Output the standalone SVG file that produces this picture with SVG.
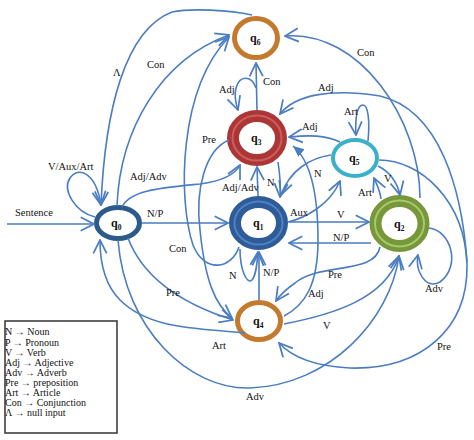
<svg xmlns="http://www.w3.org/2000/svg" width="474" height="440" viewBox="0 0 474 440">
<defs>
<marker id="a" markerUnits="userSpaceOnUse" markerWidth="16" markerHeight="16" viewBox="0 0 12 12" refX="11" refY="6" orient="auto">
<path d="M1,1 L11,6 L1,11" fill="none" stroke="#4A7DC1" stroke-width="1.3"/>
</marker>
<marker id="f" markerUnits="userSpaceOnUse" markerWidth="12" markerHeight="12" viewBox="0 0 12 12" refX="11" refY="6" orient="auto">
<path d="M0,1 L11,6 L0,11 z" fill="#4A7DC1"/>
</marker>
</defs>
<style>
.e{fill:none;stroke:#4A7DC1;stroke-width:1.6;marker-end:url(#a)}
.n{fill:none;stroke:#4A7DC1;stroke-width:1.6}
.l{font-family:"Liberation Serif",serif;font-size:10.5px;fill:#111}
.q{font-family:"Liberation Serif",serif;font-size:12px;font-weight:bold;fill:#111}
.s{font-size:7.5px}
.g{font-family:"Liberation Serif",serif;font-size:10px;fill:#111}
</style>
<rect width="474" height="440" fill="#fff"/>

<g id="legend">
<rect x="5" y="321" width="112" height="112" fill="#fff" stroke="#333" stroke-width="1.5"/>
<text class="g" x="5" y="335">N <tspan font-weight="bold">→</tspan> Noun</text>
<text class="g" x="5" y="345.5">P <tspan font-weight="bold">→</tspan> Pronoun</text>
<text class="g" x="5" y="355.5">V <tspan font-weight="bold">→</tspan> Verb</text>
<text class="g" x="5" y="365.5">Adj <tspan font-weight="bold">→</tspan> Adjective</text>
<text class="g" x="5" y="375.5">Adv <tspan font-weight="bold">→</tspan> Adverb</text>
<text class="g" x="5" y="386">Pre <tspan font-weight="bold">→</tspan> preposition</text>
<text class="g" x="5" y="396">Art <tspan font-weight="bold">→</tspan> Article</text>
<text class="g" x="5" y="406">Con <tspan font-weight="bold">→</tspan> Conjunction</text>
<text class="g" x="5" y="416">Λ <tspan font-weight="bold">→</tspan> null input</text>
</g>

<g id="q6">
<ellipse cx="256" cy="38" rx="21.5" ry="19.5" fill="#fff" stroke="#C47A2E" stroke-width="5"/>
<text class="q" x="250" y="42">q<tspan class="s" dy="3">6</tspan></text>
</g>
<g id="q3">
<ellipse cx="257" cy="138" rx="24" ry="22" fill="#fff" stroke="#AC3636" stroke-width="12"/>
<ellipse cx="257" cy="138" rx="24.5" ry="22.5" fill="none" stroke="#CC5E5E" stroke-width="2"/>
<text class="q" x="251" y="142">q<tspan class="s" dy="3">3</tspan></text>
</g>
<g id="q1">
<ellipse cx="258.5" cy="223" rx="23.5" ry="21" fill="#fff" stroke="#2E5C98" stroke-width="12"/>
<ellipse cx="258.5" cy="223" rx="24" ry="21.5" fill="none" stroke="#4F80C0" stroke-width="2"/>
<text class="q" x="253" y="227">q<tspan class="s" dy="3">1</tspan></text>
</g>
<g id="q0">
<ellipse cx="118" cy="223" rx="21.5" ry="15.5" fill="#fff" stroke="#2B5A8B" stroke-width="5"/>
<text class="q" x="111" y="227">q<tspan class="s" dy="3">0</tspan></text>
</g>
<g id="q5">
<ellipse cx="355" cy="158" rx="22" ry="18" fill="#fff" stroke="#3BB0CC" stroke-width="4"/>
<text class="q" x="349" y="162">q<tspan class="s" dy="3">5</tspan></text>
</g>
<g id="q2">
<ellipse cx="399.5" cy="223.5" rx="24" ry="22.5" fill="#fff" stroke="#76973A" stroke-width="12"/>
<ellipse cx="399.5" cy="223.5" rx="24.5" ry="23" fill="none" stroke="#A9C86A" stroke-width="2"/>
<text class="q" x="394" y="228">q<tspan class="s" dy="3">2</tspan></text>
</g>
<g id="q4">
<ellipse cx="259" cy="321" rx="21.5" ry="18.5" fill="#fff" stroke="#C47A2E" stroke-width="5"/>
<text class="q" x="253" y="325">q<tspan class="s" dy="3">4</tspan></text>
</g>

<g id="connectors">
<path class="e" d="M7,224 L94,224"/>
<path class="e" d="M95,217 C75,212 62,190 70,178 C78,166 96,172 101,205"/>
<path class="e" d="M252,15 C230,10 190,8 172,12 C125,30 105,110 101,205"/>
<path class="e" d="M117,206 C120,130 160,60 229,35"/>
<path class="e" d="M239,247 C232,268 205,275 193,245 C178,200 178,90 229,37"/>
<path class="e" d="M257,110 L256,63"/>
<path class="e" d="M256,88 C252,76 240,74 236,88 C234,96 236,104 238,110"/>
<path class="e" d="M122,207 C130,190 160,188 200,184 C222,181 235,175 240,165"/>
<path class="e" d="M142,223 L228,223"/>
<path class="e" d="M128,238 C140,270 170,300 233,320"/>
<path class="e" d="M245,333 C200,328 150,330 120,300 C105,285 100,265 100,240"/>
<path class="e" d="M118,240 C125,330 190,390 250,388 C330,385 390,320 399,256"/>
<path class="e" d="M229,140 C205,150 195,190 200,230 C205,280 215,305 232,318"/>
<path class="n" d="M284,316 C305,305 318,285 318,240 C318,190 310,160 293,146" marker-end="url(#f)"/>
<path class="e" d="M278,162 C280,175 281,185 280,197"/>
<path class="e" d="M258,196 L257,167"/>
<path class="e" d="M288,222 C305,218 330,205 340,181"/>
<path class="e" d="M331,155 C310,158 290,170 281,195"/>
<path class="e" d="M340,142 C325,135 310,135 289,137"/>
<path class="e" d="M368,141 C370,120 368,105 363,105 C357,105 355,118 356,135"/>
<path class="e" d="M378,166 C390,172 397,182 400,195"/>
<path class="e" d="M381,199 C380,190 377,185 374,178"/>
<path class="e" d="M289,222 L369,222"/>
<path class="e" d="M371,243 L289,243"/>
<path class="e" d="M380,247 C375,275 320,262 295,283 C285,290 280,295 276,301"/>
<path class="e" d="M284,324 C330,315 385,300 399,256"/>
<path class="e" d="M429,228 C450,230 462,265 440,282 C425,290 415,270 418,255"/>
<path class="e" d="M420,198 C420,120 360,30 285,36"/>
<path class="e" d="M379,160 C420,160 465,200 467,265 C468,330 420,370 350,368 C310,366 290,355 279,343"/>
<path class="e" d="M467,262 C462,190 440,110 380,96 C330,88 295,95 280,114"/>
<path class="e" d="M240,249 C240,270 247,285 252,280 C256,275 257,265 258,252"/>
<path class="e" d="M259,300 L259,252"/>
</g>

<g id="labels">
<text class="l" x="15" y="216">Sentence</text>
<text class="l" x="48" y="170">V/Aux/Art</text>
<text class="l" x="113" y="76">Λ</text>
<text class="l" x="147" y="68">Con</text>
<text class="l" x="263" y="85">Con</text>
<text class="l" x="219" y="93">Adj</text>
<text class="l" x="357" y="56">Con</text>
<text class="l" x="318" y="91">Adj</text>
<text class="l" x="344" y="115">Art</text>
<text class="l" x="302" y="130">Adj</text>
<text class="l" x="202" y="143">Pre</text>
<text class="l" x="130" y="180">Adj/Adv</text>
<text class="l" x="222" y="191">Adj/Adv</text>
<text class="l" x="267" y="186">N</text>
<text class="l" x="314" y="177">N</text>
<text class="l" x="384" y="182">V</text>
<text class="l" x="358" y="196">Art</text>
<text class="l" x="290" y="216">Aux</text>
<text class="l" x="147" y="217">N/P</text>
<text class="l" x="337" y="218">V</text>
<text class="l" x="333" y="241">N/P</text>
<text class="l" x="169" y="252">Con</text>
<text class="l" x="229" y="279">N</text>
<text class="l" x="263" y="276">N/P</text>
<text class="l" x="328" y="278">Pre</text>
<text class="l" x="308" y="297">Adj</text>
<text class="l" x="425" y="292">Adv</text>
<text class="l" x="166" y="296">Pre</text>
<text class="l" x="323" y="329">V</text>
<text class="l" x="212" y="349">Art</text>
<text class="l" x="437" y="350">Pre</text>
<text class="l" x="246" y="400">Adv</text>
</g>
</svg>
